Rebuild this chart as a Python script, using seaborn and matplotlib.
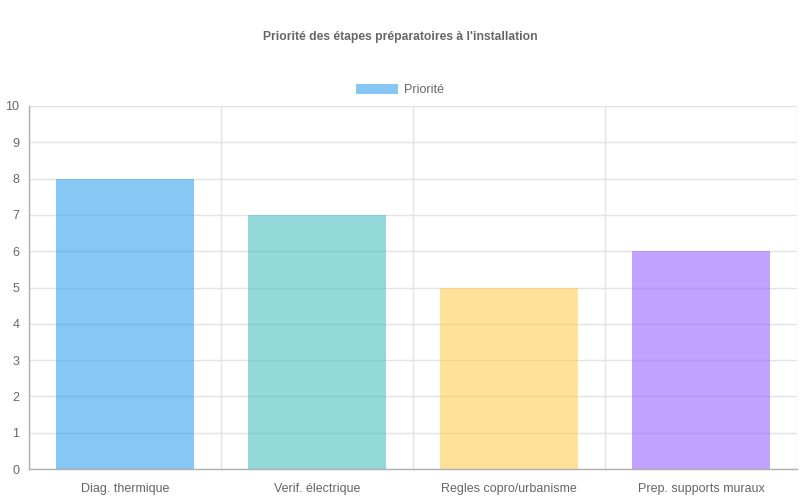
import numpy as np
import pandas as pd
import seaborn as sns
import matplotlib.pyplot as plt
from matplotlib.patches import Patch

# Données du graphique
etapes = ['Diag. thermique', 'Verif. électrique', 'Regles copro/urbanisme', 'Prep. supports muraux']
priorite = [8, 7, 5, 6]
couleurs = ['#36a2eb', '#4bc0c0', '#ffce56', '#9966ff']
titre = "Priorité des étapes préparatoires à l'installation"
label_serie = 'Priorité'

sns.set_theme(style='white')
plt.rcParams['font.family'] = ['Liberation Sans', 'DejaVu Sans']

df = pd.DataFrame({'etape': etapes, 'priorite': priorite})

fig = plt.figure(figsize=(8, 5), dpi=100)
ax = fig.add_axes([29 / 800, 1 - 469 / 500, 768 / 800, 363 / 500])

sns.barplot(data=df, x='etape', y='priorite', hue='etape', palette=couleurs,
            width=0.72, saturation=1, alpha=0.6, linewidth=0,
            legend=False, ax=ax)

ax.set_ylim(0, 10)
ax.set_xlim(-0.5, len(etapes) - 0.5)
ax.set_yticks(range(0, 11))
ax.set_xlabel('')
ax.set_ylabel('')

# grille style Chart.js
gris = '#666666'
ax.set_xticks(np.arange(-0.5, len(etapes)), minor=True)
ax.grid(axis='y', color='#e3e3e3', linewidth=1)
ax.grid(axis='x', which='minor', color='#e3e3e3', linewidth=1)
ax.set_axisbelow(True)
ax.tick_params(axis='x', which='major', length=0, pad=10, labelsize=9, labelcolor=gris)
ax.tick_params(axis='x', which='minor', length=7, color='#e0e0e0', width=1)
ax.tick_params(axis='y', length=5, color='#c8c8c8', width=1, pad=2, labelsize=9, labelcolor=gris)

for s in ['top', 'right']:
    ax.spines[s].set_visible(False)
ax.spines['left'].set_color('#b0b0b0')
ax.spines['bottom'].set_color('#b0b0b0')
ax.spines['left'].set_linewidth(1)
ax.spines['bottom'].set_linewidth(1)

fig.text(0.5, 1 - 37 / 500, titre, ha='center', va='center',
         fontsize=8.7, fontweight='bold', color=gris)

handle = Patch(facecolor=couleurs[0], edgecolor='none', alpha=0.6, label=label_serie)
fig.legend(handles=[handle], loc='center', bbox_to_anchor=(0.5, 1 - 90 / 500),
           frameon=False, fontsize=9, labelcolor=gris,
           handlelength=3.3, handleheight=0.9, handletextpad=0.5)

fig.savefig('out.png', dpi=100)
